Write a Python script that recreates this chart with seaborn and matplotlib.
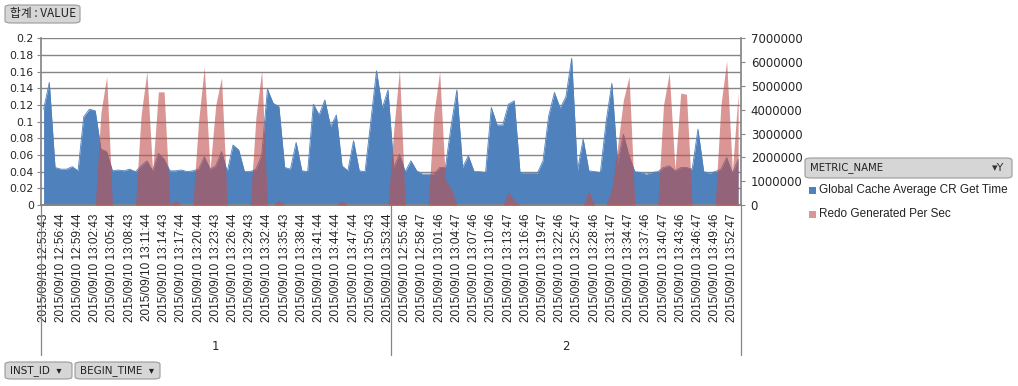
import numpy as np
import pandas as pd
import matplotlib
matplotlib.use("Agg")
import matplotlib.pyplot as plt
import matplotlib.transforms as mtransforms
from matplotlib.patches import FancyBboxPatch, Rectangle
import seaborn as sns

# ── data ───────────────────────────────────────────────────────────────────
INST_IDS = ["1", "2"]
METRICS = ["Global Cache Average CR Get Time", "Redo Generated Per Sec"]

# Global Cache Average CR Get Time (left axis), one value per minute
CR_GET_TIME_1 = [0.115, 0.147, 0.045, 0.043, 0.043, 0.046, 0.041, 0.106, 0.115, 0.113,
                 0.067, 0.064, 0.041, 0.042, 0.041, 0.043, 0.040, 0.047, 0.053, 0.041,
                 0.062, 0.055, 0.041, 0.041, 0.042, 0.040, 0.041, 0.043, 0.058, 0.043,
                 0.047, 0.064, 0.040, 0.072, 0.066, 0.040, 0.040, 0.043, 0.060, 0.139,
                 0.122, 0.118, 0.045, 0.043, 0.075, 0.041, 0.040, 0.121, 0.108, 0.126,
                 0.094, 0.108, 0.047, 0.041, 0.077, 0.041, 0.040, 0.100, 0.161, 0.116,
                 0.138]
CR_GET_TIME_2 = [0.045, 0.061, 0.040, 0.053, 0.041, 0.037, 0.037, 0.037, 0.045, 0.045,
                 0.095, 0.138, 0.045, 0.059, 0.040, 0.040, 0.039, 0.117, 0.096, 0.096,
                 0.121, 0.125, 0.039, 0.038, 0.038, 0.038, 0.053, 0.107, 0.135, 0.116,
                 0.130, 0.176, 0.041, 0.079, 0.041, 0.040, 0.039, 0.100, 0.146, 0.050,
                 0.085, 0.059, 0.040, 0.039, 0.037, 0.039, 0.040, 0.045, 0.047, 0.041,
                 0.045, 0.045, 0.043, 0.091, 0.040, 0.038, 0.040, 0.043, 0.057, 0.038,
                 0.055]

# Redo Generated Per Sec (right axis)
REDO_PER_SEC_1 = [0, 0, 0, 0, 0, 0, 0, 0, 0, 0,
                  3900000, 5400000, 0, 0, 0, 0, 0, 3800000, 5600000, 1400000,
                  4750000, 4750000, 0, 200000, 0, 0, 0, 3500000, 5800000, 1500000,
                  4200000, 5350000, 0, 0, 0, 0, 0, 3700000, 5650000, 0,
                  0, 200000, 0, 0, 0, 0, 0, 0, 0, 0,
                  0, 0, 180000, 0, 0, 0, 0, 0, 0, 0,
                  0]
REDO_PER_SEC_2 = [3150000, 5700000, 0, 0, 0, 0, 0, 3850000, 5600000, 1050000,
                  700000, 0, 0, 0, 0, 0, 0, 0, 0, 0,
                  550000, 180000, 0, 0, 0, 0, 0, 0, 0, 0,
                  0, 0, 0, 0, 600000, 0, 0, 0, 700000, 2450000,
                  4400000, 5400000, 0, 0, 0, 0, 0, 4200000, 5550000, 1500000,
                  4700000, 4650000, 0, 0, 0, 0, 0, 4200000, 6050000, 1400000,
                  4700000]

# BEGIN_TIME labels (every third minute is shown)
BEGIN_TIME_1 = ["2015/09/10 12:53:43", "2015/09/10 12:56:44", "2015/09/10 12:59:44",
                "2015/09/10 13:02:43", "2015/09/10 13:05:44", "2015/09/10 13:08:43",
                "2015/09/10 13:11:44", "2015/09/10 13:14:43", "2015/09/10 13:17:44",
                "2015/09/10 13:20:44", "2015/09/10 13:23:43", "2015/09/10 13:26:44",
                "2015/09/10 13:29:43", "2015/09/10 13:32:44", "2015/09/10 13:35:43",
                "2015/09/10 13:38:44", "2015/09/10 13:41:44", "2015/09/10 13:44:44",
                "2015/09/10 13:47:44", "2015/09/10 13:50:43", "2015/09/10 13:53:44"]
BEGIN_TIME_2 = ["2015/09/10 12:55:46", "2015/09/10 12:58:47", "2015/09/10 13:01:46",
                "2015/09/10 13:04:47", "2015/09/10 13:07:46", "2015/09/10 13:10:46",
                "2015/09/10 13:13:47", "2015/09/10 13:16:46", "2015/09/10 13:19:47",
                "2015/09/10 13:22:46", "2015/09/10 13:25:47", "2015/09/10 13:28:46",
                "2015/09/10 13:31:47", "2015/09/10 13:34:47", "2015/09/10 13:37:46",
                "2015/09/10 13:40:47", "2015/09/10 13:43:46", "2015/09/10 13:46:47",
                "2015/09/10 13:49:46", "2015/09/10 13:52:47"]

# ── style ──────────────────────────────────────────────────────────────────
BLUE = "#4F81BD"
RED = "#C0504D"
RED_ALPHA = 0.6
GRID = "#868686"
BTN_FC = "#d6d6d6"
BTN_EC = "#9a9a9a"

sns.set_theme(style="white")
plt.rcParams["font.family"] = ["DejaVu Sans", "Noto Sans CJK KR"]

df = pd.DataFrame({
    "inst_id": [INST_IDS[0]] * len(CR_GET_TIME_1) + [INST_IDS[1]] * len(CR_GET_TIME_2),
    "cr_get_time": CR_GET_TIME_1 + CR_GET_TIME_2,
    "redo": REDO_PER_SEC_1 + REDO_PER_SEC_2,
})
df["idx"] = np.arange(len(df))
n_total = len(df)
n_first = len(CR_GET_TIME_1)

W, H = 1018, 386
fig = plt.figure(figsize=(W / 100, H / 100), dpi=100)
ax = fig.add_axes([40.7 / W, 1 - 205 / H, 700.3 / W, 166.7 / H])

# blue area (left axis)
ax.fill_between(df["idx"], 0, df["cr_get_time"], color=BLUE, lw=0, zorder=2)
sns.lineplot(data=df, x="idx", y="cr_get_time", ax=ax, color=BLUE, lw=0.6, zorder=2)
ax.set_xlim(-0.5, n_total - 0.5)
ax.set_ylim(0, 0.2)
left_ticks = np.round(np.arange(0, 0.2001, 0.02), 2)
ax.set_yticks(left_ticks)
ax.set_yticklabels([f"{v:g}" for v in left_ticks], fontsize=7.8)
ax.yaxis.grid(True, color=GRID, lw=1)
ax.set_axisbelow(True)
ax.set_xlabel("")
ax.set_ylabel("")

# category axis: every third minute labelled
tick_pos = list(range(0, n_total, 3))
ax.set_xticks(tick_pos)
ax.set_xticklabels(BEGIN_TIME_1 + BEGIN_TIME_2, rotation=90,
                   fontsize=8.5, family="Liberation Sans", color="#222222")
ax.tick_params(axis="x", length=0, pad=6)

# red area (right axis), semi transparent on top
ax2 = ax.twinx()
ax2.fill_between(df["idx"], 0, df["redo"], color=RED, alpha=RED_ALPHA, lw=0, zorder=3)
ax2.set_ylim(0, 7000000)
right_ticks = np.arange(0, 7000001, 1000000)
ax2.set_yticks(right_ticks)
ax2.set_yticklabels([f"{int(v)}" for v in right_ticks], fontsize=8.5)
ax2.set_xlim(-0.5, n_total - 0.5)

for a in (ax, ax2):
    a.spines["top"].set_visible(False)
    a.spines["left"].set_color(GRID)
    a.spines["bottom"].set_color(GRID)
    a.spines["right"].set_color(GRID)
ax.spines["right"].set_visible(False)
ax2.spines["left"].set_visible(False)
ax.tick_params(axis="y", length=3, width=0.8, color=GRID, pad=2, left=True)
ax2.tick_params(axis="y", length=3, width=0.8, color=GRID, pad=4, right=True)

# multi-level axis separators and INST_ID labels
trans = mtransforms.blended_transform_factory(ax.transData, ax.transAxes)
for xb in (-0.5, n_first - 0.5, n_total - 0.5):
    ax.plot([xb, xb], [0, -0.9], transform=trans, clip_on=False, color=GRID, lw=0.9)
group_centres = [(n_first - 1) / 2, n_first + (n_total - n_first - 1) / 2]
for xc, lab in zip(group_centres, INST_IDS):
    ax.text(xc, -0.85, lab, transform=trans, ha="center", va="center", fontsize=8.5)


# ── pivot field buttons and legend ─────────────────────────────────────────
def button(x0, y0, x1, y1, text, fs=8, family=None):
    fig.patches.append(FancyBboxPatch(
        (x0 / W, 1 - y1 / H), (x1 - x0) / W, (y1 - y0) / H,
        boxstyle="round,pad=0,rounding_size=0.006", transform=fig.transFigure,
        fc=BTN_FC, ec=BTN_EC, lw=0.8))
    kw = {"family": family} if family else {}
    fig.text((x0 + 5) / W, 1 - (y0 + y1) / 2 / H, text, ha="left", va="center",
             fontsize=fs, color="#222222", **kw)


button(5, 5, 80, 23, "합계 : VALUE", fs=8.5, family=["Noto Sans CJK KR", "DejaVu Sans"])
button(5, 362, 72, 379, "INST_ID  ▾", fs=7.5)
button(75, 362, 160, 379, "BEGIN_TIME  ▾", fs=7.5)
button(805, 158, 1012, 178, "METRIC_NAME", fs=7.3)
fig.text(998 / W, 1 - 168 / H, "▾Y", ha="center", va="center", fontsize=8, color="#333333")

legend_rows = [(METRICS[0], BLUE, 1.0, 190), (METRICS[1], RED, RED_ALPHA, 214)]
for name, col, al, yc in legend_rows:
    fig.patches.append(Rectangle((809 / W, 1 - (yc + 3.5) / H), 7 / W, 7 / H,
                                 transform=fig.transFigure, fc=col, alpha=al, lw=0))
    fig.text(819 / W, 1 - yc / H, name, ha="left", va="center", fontsize=8.5,
             family="Liberation Sans", color="#222222")

fig.savefig("out.png", dpi=100)
